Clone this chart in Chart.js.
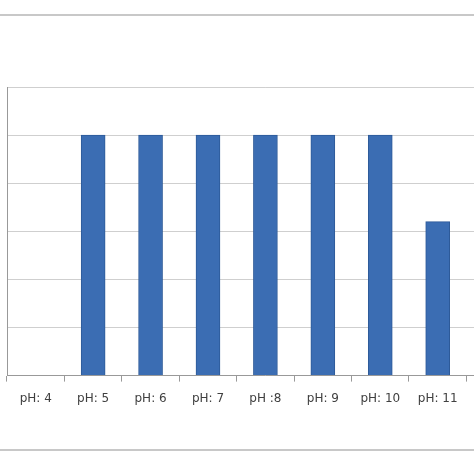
<!DOCTYPE html><html><head><script src="https://cdn.jsdelivr.net/npm/chart.js"></script>
<style>body{margin:0;overflow:hidden;background:#fff;width:474px;height:474px;position:relative}
#w{position:absolute;left:0;top:0;width:525px;height:420px}
.l{position:absolute;left:0;width:474px;height:2px;background:#c8c8c8}</style></head><body>
<div class="l" style="top:14px"></div><div class="l" style="top:449px"></div>
<div id="w"><canvas id="c"></canvas></div>
<script>
const categories=["pH: 4","pH: 5","pH: 6","pH: 7","pH :8","pH: 9","pH: 10","pH: 11","pH: 12"];
const values=[0,5,5,5,5,5,5,3.2,0];
const yTicks=[0,1,2,3,4,5,6];
new Chart(document.getElementById('c'),{type:'bar',
data:{labels:categories,datasets:[{data:values,backgroundColor:'#3b6db3',borderColor:'#2d5a98',borderWidth:1,barThickness:24}]},
options:{responsive:true,maintainAspectRatio:false,animation:false,
layout:{padding:{left:7,top:87,right:0,bottom:4}},
plugins:{legend:{display:false},tooltip:{enabled:false}},
scales:{x:{grid:{display:true,drawOnChartArea:false,tickLength:6,color:'#999'},border:{color:'#999'},
ticks:{color:'#404040',font:{family:'DejaVu Sans',size:12},padding:10,maxRotation:0,autoSkip:false}},
y:{min:0,max:6,afterBuildTicks:s=>{s.ticks=yTicks.map(v=>({value:v}))},ticks:{display:false},grid:{color:'#cfcfcf',tickLength:0},border:{color:'#999'}}}}});
</script></body></html>
